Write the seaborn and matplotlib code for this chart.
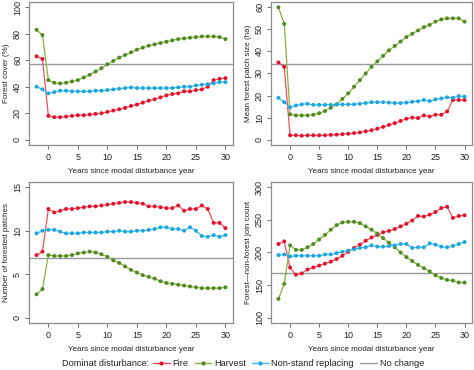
import numpy as np
import pandas as pd
import matplotlib
matplotlib.use("Agg")
import matplotlib.pyplot as plt
from matplotlib.lines import Line2D
import seaborn as sns

years = list(range(-2, 31))

cover_fire = [63, 61, 18, 17, 17, 17.5, 18, 18.5, 18.5, 19, 19.5, 20, 21, 22, 23, 24, 25.5, 26.5, 28, 29.5, 30.5, 32, 33.5, 34.5, 35, 36.5, 36.5, 37.5, 38, 40, 45, 46, 46.5]
cover_harvest = [83, 79, 45, 43, 42.5, 43, 44, 45, 47, 49, 51.5, 54, 57, 59.5, 62, 64, 66, 68, 69.5, 71, 72, 73, 74, 75, 76, 76.5, 77, 77.5, 78, 78, 78, 77.5, 76]
cover_nsr = [40, 38, 35, 36, 37, 37, 36.5, 36.5, 36.5, 36.5, 37, 37, 37.5, 38, 38.5, 39, 39.5, 39, 39, 39, 39, 39, 39, 39, 39.5, 40, 40, 41, 41.5, 42, 42.5, 43.5, 43.5]
cover_nochange = 57

size_fire = [35, 33, 2, 2, 1.8, 2, 2, 2, 2, 2.2, 2.3, 2.5, 2.7, 3, 3.3, 3.8, 4.3, 5, 5.8, 6.7, 7.5, 8.5, 9.5, 10, 9.8, 11, 10.5, 11.3, 11.3, 12.8, 18, 18, 18]
size_harvest = [60, 52.5, 11.5, 11, 11, 11, 11.3, 12, 13, 14.5, 16, 18.5, 21, 24, 27, 30, 33, 35.5, 38, 40.5, 42.5, 44.5, 46.5, 48, 49.5, 51, 52, 53.5, 54.5, 55, 55, 55, 53.5]
size_nsr = [19, 17, 14.7, 15.5, 16, 16.3, 15.8, 15.8, 15.8, 15.8, 16, 16, 16, 16, 16.3, 16.6, 17, 17, 17, 16.8, 16.6, 16.6, 16.8, 17.2, 17.4, 18, 17.5, 18.3, 18.7, 19.2, 19, 19.8, 19.5]
size_nochange = 34.5

num_fire = [7.2, 7.6, 12.5, 12.1, 12.3, 12.5, 12.5, 12.6, 12.7, 12.8, 12.8, 12.9, 13.0, 13.1, 13.2, 13.3, 13.3, 13.2, 13.1, 12.8, 12.8, 12.7, 12.6, 12.6, 12.9, 12.3, 12.5, 12.5, 12.9, 12.5, 10.9, 10.9, 10.3]
num_harvest = [2.7, 3.3, 7.2, 7.1, 7.1, 7.1, 7.2, 7.4, 7.5, 7.6, 7.5, 7.3, 7.0, 6.6, 6.3, 5.9, 5.5, 5.2, 4.9, 4.7, 4.5, 4.2, 4.0, 3.9, 3.8, 3.7, 3.6, 3.5, 3.4, 3.4, 3.4, 3.4, 3.5]
num_nsr = [9.7, 10.0, 10.1, 10.1, 9.9, 9.7, 9.7, 9.7, 9.8, 9.8, 9.8, 9.8, 9.9, 9.9, 10.0, 9.9, 9.9, 10.0, 10.0, 10.1, 10.2, 10.4, 10.4, 10.2, 10.2, 10.0, 10.4, 10.0, 9.4, 9.3, 9.5, 9.3, 9.5]
num_nochange = 6.9

join_fire = [213, 217, 177, 166, 168, 174, 177, 180, 183, 186, 190, 195, 201, 207, 212, 218, 223, 227, 231, 233, 236, 240, 244, 249, 256, 255, 258, 262, 268, 270, 253, 256, 257]
join_harvest = [129, 152, 211, 204, 204, 208, 213, 220, 227, 235, 242, 246, 247, 247, 245, 240, 235, 229, 222, 215, 208, 200, 193, 187, 181, 176, 171, 165, 161, 158, 157, 154, 154]
join_nsr = [196, 197, 194, 195, 195, 195, 195, 195, 197, 197, 199, 201, 203, 205, 207, 208, 211, 209, 209, 210, 211, 213, 213, 207, 208, 208, 214, 212, 209, 208, 210, 213, 216]
join_nochange = 168

series_names = ["Fire", "Harvest", "Non-stand replacing"]
point_colors = {"Fire": "#E3102B", "Harvest": "#4E8A1E", "Non-stand replacing": "#1AA6DE"}
line_colors = {"Fire": "#F0505E", "Harvest": "#86B040", "Non-stand replacing": "#45B8E8"}
nochange_color = "#9A9A9A"
frame_color = "#8C8C8C"

panels = [
    dict(vals=[cover_fire, cover_harvest, cover_nsr], nc=cover_nochange, ylabel="Forest cover (%)",
         yticks=[0, 20, 40, 60, 80, 100], ylim=(-4, 104), pos=[29/474, 1-145/370, 204/474, 143/370]),
    dict(vals=[size_fire, size_harvest, size_nsr], nc=size_nochange, ylabel="Mean forest patch size (ha)",
         yticks=[0, 10, 20, 30, 40, 50, 60], ylim=(-2.4, 62.4), pos=[271/474, 1-145/370, 201/474, 143/370]),
    dict(vals=[num_fire, num_harvest, num_nsr], nc=num_nochange, ylabel="Number of forested patches",
         yticks=[0, 5, 10, 15], ylim=(-0.6, 15.6), pos=[29/474, 1-323/370, 204/474, 141/370]),
    dict(vals=[join_fire, join_harvest, join_nsr], nc=join_nochange, ylabel="Forest\u2014non-forest join count",
         yticks=[100, 150, 200, 250, 300], ylim=(92, 308), pos=[271/474, 1-323/370, 201/474, 141/370]),
]

sns.set_style("white")
plt.rcParams['font.family'] = ['Liberation Sans', 'DejaVu Sans']

fig = plt.figure(figsize=(4.74, 3.70), dpi=100)

for p in panels:
    ax = fig.add_axes(p["pos"])
    rows = []
    for name, v in zip(series_names, p["vals"]):
        for yr, val in zip(years, v):
            rows.append({"year": yr, "value": val, "series": name})
    df = pd.DataFrame(rows)
    ax.axhline(p["nc"], color=nochange_color, lw=1.0, zorder=1)
    sns.lineplot(data=df, x="year", y="value", hue="series", palette=line_colors,
                 lw=0.9, ax=ax, legend=False, zorder=2)
    sns.scatterplot(data=df, x="year", y="value", hue="series", palette=point_colors,
                    s=8, linewidth=0, ax=ax, legend=False, zorder=3)
    ax.set_xlim(-3.28, 31.28)
    ax.set_ylim(*p["ylim"])
    ax.set_xticks([0, 5, 10, 15, 20, 25, 30])
    ax.set_yticks(p["yticks"])
    ax.set_yticklabels([str(t) for t in p["yticks"]], rotation=90, va="center")
    ax.tick_params(axis="both", labelsize=6.5, length=3, width=0.6, color="#555555",
                   labelcolor="#222222", pad=3, direction="out", bottom=True, left=True)
    ax.tick_params(axis="y", pad=2)
    ax.set_xlabel("Years since modal disturbance year", fontsize=5.8, color="#222222", labelpad=4)
    ax.set_ylabel(p["ylabel"], fontsize=5.8, color="#222222", labelpad=2)
    for s in ax.spines.values():
        s.set_color(frame_color)
        s.set_linewidth(0.9)

fig.text(62/474, 1-364/370, "Dominat disturbance:", fontsize=6.6, color="#222222", va="center", ha="left")
handles = [Line2D([0], [0], color=line_colors[n], lw=1.0, marker="o", markersize=3,
                  markerfacecolor=point_colors[n], markeredgewidth=0) for n in series_names]
handles.append(Line2D([0], [0], color=nochange_color, lw=1.0))
labels = series_names + ["No change"]
fig.legend(handles, labels, loc="center left", bbox_to_anchor=(153/474, 1-364/370), ncol=4,
           frameon=False, fontsize=6.6, handlelength=1.8, handletextpad=0.3, columnspacing=0.7,
           borderaxespad=0, borderpad=0, labelcolor="#222222")

fig.savefig("out.png", dpi=100)
